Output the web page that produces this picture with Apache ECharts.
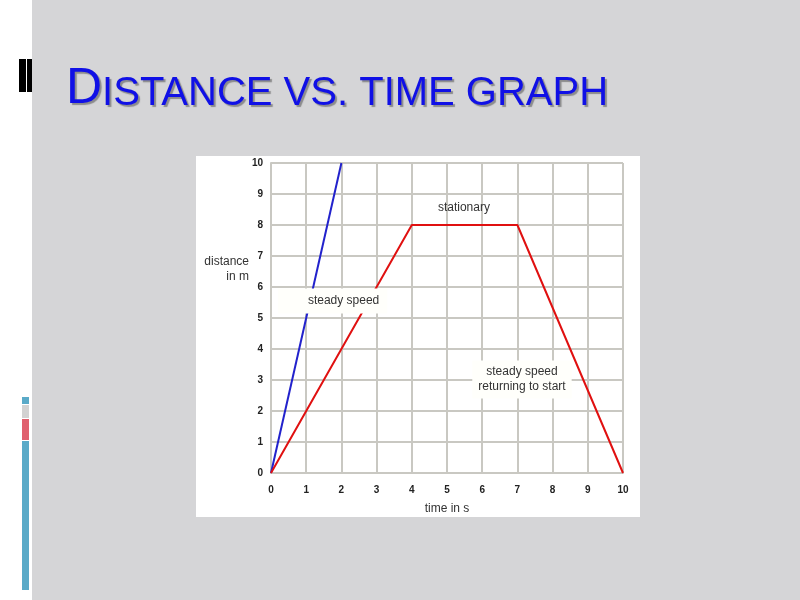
<!DOCTYPE html>
<html>
<head>
<meta charset="utf-8">
<script src="https://cdn.jsdelivr.net/npm/echarts@6/dist/echarts.min.js"></script>
<style>
  html, body { margin: 0; padding: 0; background: #d5d5d7; }
  #chart { width: 800px; height: 600px; }
</style>
</head>
<body>
<div id="chart"></div>
<script>
// time in s / distance in m
const timeTicks = [0, 1, 2, 3, 4, 5, 6, 7, 8, 9, 10]
const fastRun = [[0, 0], [2, 10]]
const tripRun = [[0, 0], [4, 8], [7, 8], [10, 0]]
const notes = [
    { text: 'steady speed', at: [1.75, 5.55], boxed: true },
    { text: 'stationary', at: [5.48, 8.55], boxed: false },
    { text: 'steady speed\nreturning to start', at: [7.13, 3.02], boxed: true }
]

const chart = echarts.init(document.getElementById('chart'))

const gridColor = '#c9c8c2'
const labelFont = { fontFamily: 'Liberation Sans, Arial', fontSize: 10, fontWeight: 'bold', color: '#222' }
const titleBlue = '#1010e6'
const titleShadow = { textShadowColor: 'rgba(90,90,90,0.6)', textShadowOffsetX: 2, textShadowOffsetY: 2, textShadowBlur: 1 }

const option = {
    backgroundColor: '#d5d5d7',
    animation: false,
    graphic: [
        // white strip on the left of the slide
        { type: 'rect', shape: { x: 0, y: 0, width: 32, height: 600 }, style: { fill: '#fff' }, z: 0 },
        { type: 'rect', shape: { x: 19, y: 59, width: 7, height: 33 }, style: { fill: '#000' } },
        { type: 'rect', shape: { x: 27, y: 59, width: 5, height: 33 }, style: { fill: '#000' } },
        { type: 'rect', shape: { x: 22, y: 397, width: 7, height: 7 }, style: { fill: '#5aaac8' } },
        { type: 'rect', shape: { x: 22, y: 405, width: 7, height: 13 }, style: { fill: '#d2d2d2' } },
        { type: 'rect', shape: { x: 22, y: 419, width: 7, height: 21 }, style: { fill: '#e0606e' } },
        { type: 'rect', shape: { x: 22, y: 441, width: 7, height: 149 }, style: { fill: '#5aaac8' } },
        // white card behind the chart
        { type: 'rect', shape: { x: 196, y: 156, width: 444, height: 361 }, style: { fill: '#fff' }, z: -1 },
        {
            type: 'text', left: 66, top: 64,
            style: {
                text: '{big|D}{small|ISTANCE VS. TIME GRAPH}',
                fill: titleBlue,
                rich: {
                    big: Object.assign({ fontSize: 50, fontFamily: 'Liberation Sans, Arial', fill: titleBlue, verticalAlign: 'bottom' }, titleShadow),
                    small: Object.assign({ fontSize: 40, fontFamily: 'Liberation Sans, Arial', fill: titleBlue, verticalAlign: 'bottom' }, titleShadow)
                }
            }
        },
        {
            type: 'text', x: 249, y: 254,
            style: {
                text: 'distance\nin m', align: 'right', lineHeight: 15,
                fontFamily: 'Liberation Sans, Arial', fontSize: 12, fill: '#333'
            }
        }
    ],
    grid: { left: 271, right: 177, top: 163, bottom: 127 },
    xAxis: {
        type: 'value', min: 0, max: 10, interval: 1,
        name: 'time in s', nameLocation: 'middle', nameGap: 30,
        nameTextStyle: { fontFamily: 'Liberation Sans, Arial', fontSize: 12, color: '#333' },
        axisLine: { lineStyle: { color: gridColor, width: 2 } },
        axisTick: { show: false },
        axisLabel: Object.assign({ margin: 12, formatter: v => timeTicks.includes(v) ? String(v) : '' }, labelFont),
        splitLine: { lineStyle: { color: gridColor, width: 2 } }
    },
    yAxis: {
        type: 'value', min: 0, max: 10, interval: 1,
        axisLine: { lineStyle: { color: gridColor, width: 2 } },
        axisTick: { show: false },
        axisLabel: Object.assign({ margin: 8 }, labelFont),
        splitLine: { lineStyle: { color: gridColor, width: 2 } }
    },
    series: [
        {
            type: 'line', data: tripRun, symbol: 'none',
            lineStyle: { color: '#e01010', width: 2 }, z: 3,
            markPoint: {
                symbol: 'rect', symbolSize: 1,
                itemStyle: { color: 'rgba(0,0,0,0)' },
                label: {
                    show: true, position: 'inside',
                    fontFamily: 'Liberation Sans, Arial', fontSize: 12, color: '#333', lineHeight: 15,
                    formatter: p => p.name
                },
                data: notes.map(n => ({
                    name: n.text, coord: n.at,
                    label: n.boxed ? { backgroundColor: '#fffffb', padding: [5, 8, 5, 30] } : {}
                }))
            }
        },
        {
            type: 'line', data: fastRun, symbol: 'none',
            lineStyle: { color: '#2222cc', width: 2 }, z: 2
        }
    ]
}

// the right-hand note only gets a small box
option.series[0].markPoint.data[2].label.padding = [4, 6]

chart.setOption(option)
</script>
</body>
</html>
